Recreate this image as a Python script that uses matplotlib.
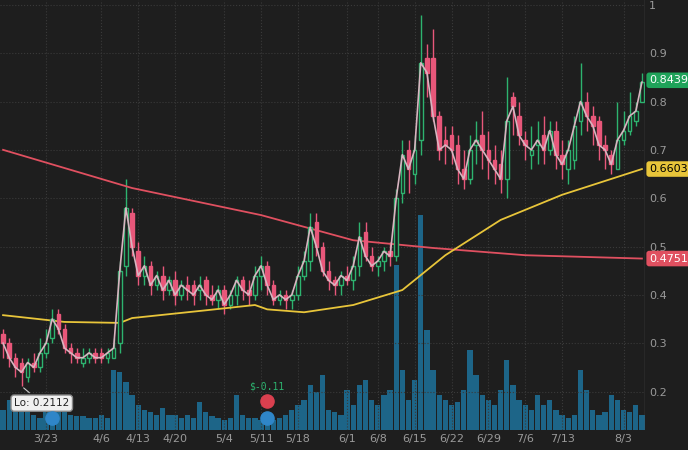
import matplotlib
matplotlib.use("Agg")
import matplotlib.pyplot as plt
import numpy as np

# daily OHLC, one entry per trading day
opens = [0.32,0.30,0.27,0.26,0.23,0.26,0.25,0.28,
         0.31,0.36,0.33,0.29,0.28,0.26,0.27,0.28,0.28,0.27,0.27,
         0.30,0.46,0.57,0.49,0.44,0.46,0.42,0.44,0.41,0.43,0.40,0.42,0.42,
         0.41,0.43,0.40,0.39,0.41,0.38,0.40,0.43,0.41,0.40,0.44,0.46,0.42,0.39,0.40,0.39,
         0.40,0.44,0.47,0.55,0.50,0.45,0.43,0.42,0.44,0.43,0.46,0.53,0.48,0.46,
         0.47,0.49,0.48,0.61,0.70,0.65,0.72,0.89,0.89,0.77,0.72,0.73,0.71,0.66,0.64,0.71,0.73,0.70,0.68,0.67,
         0.64,0.81,0.77,0.72,0.69,0.71,0.73,0.70,0.74,0.69,0.66,0.68,0.76,0.80,0.77,0.76,0.71,0.69,0.66,0.72,0.74,0.76,0.80]
closes = [0.30,0.27,0.25,0.24,0.26,0.25,0.28,0.30,
          0.35,0.33,0.29,0.28,0.27,0.27,0.28,0.27,0.27,0.28,0.29,
          0.45,0.58,0.50,0.44,0.46,0.42,0.44,0.41,0.43,0.40,0.42,0.41,0.40,
          0.42,0.40,0.39,0.41,0.38,0.40,0.43,0.41,0.40,0.44,0.46,0.42,0.39,0.40,0.39,0.40,
          0.44,0.47,0.54,0.50,0.45,0.43,0.42,0.44,0.43,0.46,0.52,0.48,0.46,0.47,
          0.49,0.48,0.60,0.69,0.66,0.70,0.88,0.86,0.77,0.70,0.71,0.70,0.66,0.64,0.70,0.72,0.70,0.68,0.66,0.64,
          0.76,0.79,0.73,0.71,0.70,0.72,0.70,0.74,0.69,0.67,0.70,0.75,0.80,0.77,0.75,0.71,0.70,0.67,0.72,0.74,0.77,0.78,0.84]
highs = [0.33,0.31,0.28,0.27,0.27,0.28,0.31,0.33,
         0.37,0.37,0.34,0.30,0.29,0.29,0.29,0.29,0.29,0.29,0.31,
         0.47,0.64,0.58,0.51,0.48,0.47,0.45,0.46,0.44,0.45,0.43,0.44,0.43,
         0.44,0.44,0.42,0.42,0.42,0.41,0.44,0.44,0.43,0.46,0.48,0.47,0.43,0.41,0.41,0.41,
         0.46,0.49,0.57,0.57,0.51,0.47,0.44,0.45,0.46,0.48,0.55,0.55,0.50,0.48,
         0.50,0.51,0.62,0.72,0.72,0.73,0.98,0.92,0.95,0.78,0.75,0.75,0.73,0.70,0.73,0.76,0.78,0.74,0.71,0.70,
         0.85,0.82,0.80,0.74,0.75,0.76,0.77,0.76,0.76,0.72,0.72,0.77,0.88,0.82,0.79,0.77,0.73,0.70,0.80,0.78,0.82,0.80,0.86]
lows = [0.27,0.25,0.23,0.2112,0.22,0.24,0.24,0.27,
        0.30,0.32,0.28,0.26,0.26,0.25,0.26,0.26,0.26,0.26,0.27,
        0.28,0.44,0.48,0.42,0.42,0.40,0.41,0.39,0.40,0.38,0.39,0.39,0.38,
        0.39,0.38,0.38,0.37,0.36,0.37,0.38,0.39,0.38,0.39,0.41,0.40,0.38,0.38,0.37,0.37,
        0.39,0.43,0.45,0.48,0.44,0.41,0.40,0.40,0.42,0.41,0.44,0.47,0.45,0.44,
        0.45,0.46,0.47,0.59,0.61,0.63,0.69,0.81,0.76,0.68,0.67,0.67,0.63,0.62,0.63,0.67,0.66,0.64,0.63,0.61,
        0.60,0.73,0.71,0.68,0.66,0.67,0.67,0.69,0.66,0.64,0.63,0.66,0.73,0.74,0.71,0.68,0.66,0.65,0.68,0.71,0.73,0.75,0.80]
volumes = [20,30,28,22,18,15,12,20,
           25,20,18,15,14,14,12,12,15,12,60,
           58,48,35,25,20,18,15,22,15,15,12,15,12,
           28,18,14,12,10,12,35,15,12,12,10,14,10,12,15,20,
           25,30,45,38,55,20,18,15,40,25,45,50,30,25,
           35,40,165,60,30,50,215,100,60,35,30,25,28,40,80,55,35,30,25,40,
           70,45,30,25,20,35,25,30,20,15,12,15,60,40,20,15,18,35,30,20,18,25,15]

# moving averages, sampled at day index
ma200_x = [0, 21, 42, 57, 70, 85, 104]
ma200_y = [0.700, 0.621, 0.565, 0.513, 0.497, 0.482, 0.4751]
ma50_x = [0, 10, 19, 21, 33, 41, 43, 49, 57, 65, 72, 81, 91, 104]
ma50_y = [0.358, 0.344, 0.342, 0.352, 0.368, 0.379, 0.370, 0.364, 0.379, 0.410, 0.482, 0.555, 0.607, 0.6603]

tick_pos = [7, 16, 22, 28, 36, 42, 48, 56, 61, 67, 73, 79, 85, 91, 101]
tick_labels = ["3/23", "4/6", "4/13", "4/20", "5/4", "5/11", "5/18", "6/1",
               "6/8", "6/15", "6/22", "6/29", "7/6", "7/13", "8/3"]

BG = "#1e1e1e"
GREEN = "#2db36f"
RED = "#e8577a"

fig = plt.figure(figsize=(6.88, 4.5), dpi=100, facecolor=BG)
ax = fig.add_axes([0, 0.044, 0.9375, 0.956], facecolor=BG)
vax = ax.twinx()
vax.set_ylim(0, 430)
vax.axis("off")
ax.set_zorder(vax.get_zorder() + 1)
ax.patch.set_visible(False)
fig.patches.append(plt.Rectangle((0, 0), 1, 1, transform=fig.transFigure, color=BG, zorder=-10))

n = len(closes)
x = np.arange(n)
vax.bar(x, volumes, width=0.85, color="#1d6a8f", alpha=0.95)

for i in range(n):
    o, c, h, l = opens[i], closes[i], highs[i], lows[i]
    col = GREEN if c >= o else RED
    ax.vlines(i, l, h, color=col, linewidth=1)
    lo_b, hi_b = min(o, c), max(o, c)
    if c >= o:
        ax.add_patch(plt.Rectangle((i - 0.3, lo_b), 0.6, max(hi_b - lo_b, 0.003),
                                   facecolor=BG, edgecolor=col, linewidth=1, zorder=3))
    else:
        ax.add_patch(plt.Rectangle((i - 0.3, lo_b), 0.6, max(hi_b - lo_b, 0.003),
                                   facecolor=col, edgecolor=col, linewidth=1, zorder=3))

ax.plot(x, closes, color="#d8b4c0", linewidth=1.2, zorder=4)
ax.plot(ma200_x, ma200_y, color="#e05060", linewidth=1.3, zorder=2)
ax.plot(ma50_x, ma50_y, color="#e8c53a", linewidth=1.3, zorder=2)

ax.set_xlim(-0.5, n - 0.5)
ax.set_ylim(0.12, 1.01)
ax.set_yticks([0.2, 0.3, 0.4, 0.5, 0.6, 0.7, 0.8, 0.9, 1.0])
ax.set_yticklabels(["0.2", "0.3", "0.4", "0.5", "0.6", "0.7", "0.8", "0.9", "1"])
ax.yaxis.tick_right()
ax.set_xticks(tick_pos)
ax.set_xticklabels(tick_labels)
ax.tick_params(colors="#9a9a9a", labelsize=8, length=0, pad=3)
ax.grid(True, color="#3a3a3a", linestyle=":", linewidth=0.8)
for s in ax.spines.values():
    s.set_visible(False)
ax.axvline(n - 0.5, color="#555555", linewidth=1)

# last-value boxes
for val, col, tc in [(0.8439, "#1fa35a", "white"), (0.6603, "#e8c53a", "black"), (0.4751, "#e05060", "white")]:
    ax.annotate(f"{val:.4f}", xy=(1.0, val), xycoords=("axes fraction", "data"),
                xytext=(3, 0), textcoords="offset points", va="center", fontsize=8, color=tc,
                bbox=dict(boxstyle="round,pad=0.25", fc=col, ec="none"), annotation_clip=False)

ax.annotate("Lo: 0.2112", xy=(3, 0.2112), xytext=(1.8, 0.176), fontsize=7.5, color="#222222",
            va="center", bbox=dict(boxstyle="round,pad=0.3", fc="#f0f0f0", ec="#888888"),
            arrowprops=dict(arrowstyle="-", color="#cccccc", lw=0.8))
ax.text(43, 0.205, "$-0.11", color=GREEN, fontsize=7, ha="center", family="DejaVu Sans Mono")
ax.scatter([43], [0.180], s=90, color="#d9404f", zorder=5)
ax.scatter([43, 8], [0.146, 0.146], s=90, color="#2f86c8", zorder=5)

fig.savefig("out.png", dpi=100, facecolor=BG)
